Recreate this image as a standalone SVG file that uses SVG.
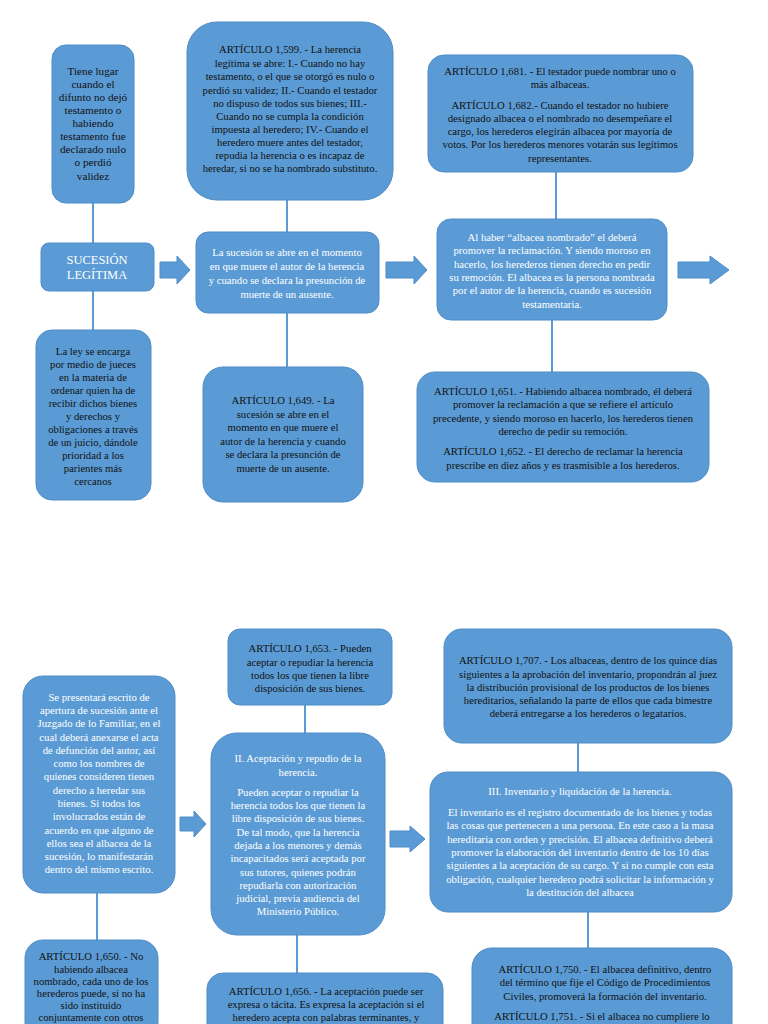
<svg xmlns="http://www.w3.org/2000/svg" width="768" height="1024" viewBox="0 0 768 1024">
<style>
.box{fill:#5b9bd5;stroke:#4f8cc6;stroke-width:1}
.arr{fill:#5b9bd5;stroke:#4f8cc6;stroke-width:1}
.con{stroke:#5b9bd5;stroke-width:2;fill:none}
text{font-family:"Liberation Serif","Times New Roman",serif;font-size:10.7px;text-anchor:middle}
.k{fill:#111111}
.w{fill:#ffffff}
</style>
<rect width="768" height="1024" fill="#ffffff"/>
<g id="connectors">
<line class="con" x1="93" y1="203" x2="93" y2="243"/>
<line class="con" x1="93" y1="291" x2="93" y2="330"/>
<line class="con" x1="287" y1="200" x2="287" y2="232"/>
<line class="con" x1="287" y1="313" x2="287" y2="367"/>
<line class="con" x1="556" y1="172" x2="556" y2="219"/>
<line class="con" x1="552" y1="320" x2="552" y2="372"/>
<line class="con" x1="97" y1="893" x2="97" y2="940"/>
<line class="con" x1="305" y1="705" x2="305" y2="733"/>
<line class="con" x1="297" y1="935" x2="297" y2="973"/>
<line class="con" x1="578" y1="743" x2="578" y2="772"/>
<line class="con" x1="588" y1="912" x2="588" y2="948"/>
<path class="arr" d="M160,262 H177 V256 L190,270 L177,284 V278 H160 Z"/>
<path class="arr" d="M386,262 H414 V256 L427,270 L414,284 V278 H386 Z"/>
<path class="arr" d="M678,262 H710 V256 L729,270 L710,284 V278 H678 Z"/>
<path class="arr" d="M180,817 H194 V811 L206,824 L194,837 V831 H180 Z"/>
<path class="arr" d="M390,831 H410 V826 L425,839 L410,852 V847 H390 Z"/>
</g>
<g id="n-tiene">
<rect class="box" x="52" y="45" width="82" height="158" rx="14"/>
<text class="k" style="font-size:11.2px"><tspan x="93" y="75">Tiene lugar</tspan><tspan x="93" y="88">cuando el</tspan><tspan x="93" y="101">difunto no dejó</tspan><tspan x="93" y="114">testamento o</tspan><tspan x="93" y="127">habiendo</tspan><tspan x="93" y="140">testamento fue</tspan><tspan x="93" y="153">declarado nulo</tspan><tspan x="93" y="166">o perdió</tspan><tspan x="93" y="180">validez</tspan></text>
</g>
<g id="n-1599">
<rect class="box" x="187" y="22" width="206" height="178" rx="30"/>
<text class="k"><tspan x="290" y="53">ARTÍCULO 1,599. - La herencia</tspan><tspan x="290" y="67">legítima se abre: I.- Cuando no hay</tspan><tspan x="290" y="80">testamento, o el que se otorgó es nulo o</tspan><tspan x="290" y="94">perdió su validez; II.- Cuando el testador</tspan><tspan x="290" y="107">no dispuso de todos sus bienes; III.-</tspan><tspan x="290" y="120">Cuando no se cumpla la condición</tspan><tspan x="290" y="133">impuesta al heredero; IV.- Cuando el</tspan><tspan x="290" y="146">heredero muere antes del testador,</tspan><tspan x="290" y="159">repudia la herencia o es incapaz de</tspan><tspan x="290" y="172">heredar, si no se ha nombrado substituto.</tspan></text>
</g>
<g id="n-1681">
<rect class="box" x="428" y="55" width="265" height="117" rx="16"/>
<text class="k"><tspan x="560" y="75">ARTÍCULO 1,681. - El testador puede nombrar uno o</tspan><tspan x="560" y="88">más albaceas.</tspan><tspan x="560" y="109">ARTÍCULO 1,682.- Cuando el testador no hubiere</tspan><tspan x="560" y="122">designado albacea o el nombrado no desempeñare el</tspan><tspan x="560" y="135">cargo, los herederos elegirán albacea por mayoría de</tspan><tspan x="560" y="148">votos. Por los herederos menores votarán sus legítimos</tspan><tspan x="560" y="162">representantes.</tspan></text>
</g>
<g id="n-sucesion">
<rect class="box" x="41" y="243" width="113" height="48" rx="8"/>
<text class="w" style="font-size:12.5px"><tspan x="97" y="264">SUCESIÓN</tspan><tspan x="97" y="279">LEGÍTIMA</tspan></text>
</g>
<g id="n-abre">
<rect class="box" x="196" y="232" width="183" height="81" rx="12"/>
<text class="w"><tspan x="287" y="256">La sucesión se abre en el momento</tspan><tspan x="287" y="270">en que muere el autor de la herencia</tspan><tspan x="287" y="284">y cuando se declara la presunción de</tspan><tspan x="287" y="298">muerte de un ausente.</tspan></text>
</g>
<g id="n-alhaber">
<rect class="box" x="437" y="219" width="230" height="101" rx="14"/>
<text class="w"><tspan x="552" y="241">Al haber “albacea nombrado” el deberá</tspan><tspan x="552" y="254">promover la reclamación. Y siendo moroso en</tspan><tspan x="552" y="268">hacerlo, los herederos tienen derecho en pedir</tspan><tspan x="552" y="281">su remoción. El albacea es la persona nombrada</tspan><tspan x="552" y="294">por el autor de la herencia, cuando es sucesión</tspan><tspan x="552" y="308">testamentaria.</tspan></text>
</g>
<g id="n-ley">
<rect class="box" x="36" y="330" width="115" height="170" rx="16"/>
<text class="k"><tspan x="93" y="355">La ley se encarga</tspan><tspan x="93" y="368">por medio de jueces</tspan><tspan x="93" y="381">en la materia de</tspan><tspan x="93" y="394">ordenar quien ha de</tspan><tspan x="93" y="407">recibir dichos bienes</tspan><tspan x="93" y="420">y derechos y</tspan><tspan x="93" y="433">obligaciones a través</tspan><tspan x="93" y="446">de un juicio, dándole</tspan><tspan x="93" y="459">prioridad a los</tspan><tspan x="93" y="472">parientes más</tspan><tspan x="93" y="485">cercanos</tspan></text>
</g>
<g id="n-1649">
<rect class="box" x="203" y="367" width="160" height="135" rx="20"/>
<text class="k"><tspan x="283" y="404">ARTÍCULO 1,649. - La</tspan><tspan x="283" y="418">sucesión se abre en el</tspan><tspan x="283" y="431">momento en que muere el</tspan><tspan x="283" y="445">autor de la herencia y cuando</tspan><tspan x="283" y="458">se declara la presunción de</tspan><tspan x="283" y="472">muerte de un ausente.</tspan></text>
</g>
<g id="n-1651">
<rect class="box" x="417" y="372" width="292" height="110" rx="18"/>
<text class="k"><tspan x="563" y="395">ARTÍCULO 1,651. - Habiendo albacea nombrado, él deberá</tspan><tspan x="563" y="408">promover la reclamación a que se refiere el artículo</tspan><tspan x="563" y="422">precedente, y siendo moroso en hacerlo, los herederos tienen</tspan><tspan x="563" y="435">derecho de pedir su remoción.</tspan><tspan x="563" y="455">ARTÍCULO 1,652. - El derecho de reclamar la herencia</tspan><tspan x="563" y="469">prescribe en diez años y es trasmisible a los herederos.</tspan></text>
</g>
<g id="n-presentara">
<rect class="box" x="23" y="676" width="152" height="217" rx="20"/>
<text class="w"><tspan x="99" y="701">Se presentará escrito de</tspan><tspan x="99" y="714">apertura de sucesión ante el</tspan><tspan x="99" y="727">Juzgado de lo Familiar, en el</tspan><tspan x="99" y="741">cual deberá anexarse el acta</tspan><tspan x="99" y="754">de defunción del autor, así</tspan><tspan x="99" y="767">como los nombres de</tspan><tspan x="99" y="780">quienes consideren tienen</tspan><tspan x="99" y="794">derecho a heredar sus</tspan><tspan x="99" y="807">bienes. Si todos los</tspan><tspan x="99" y="820">involucrados están de</tspan><tspan x="99" y="834">acuerdo en que alguno de</tspan><tspan x="99" y="847">ellos sea el albacea de la</tspan><tspan x="99" y="860">sucesión, lo manifestarán</tspan><tspan x="99" y="873">dentro del mismo escrito.</tspan></text>
</g>
<g id="n-1650">
<rect class="box" x="25" y="940" width="133" height="100" rx="18"/>
<text class="k"><tspan x="91" y="960">ARTÍCULO 1,650. - No</tspan><tspan x="91" y="973">habiendo albacea</tspan><tspan x="91" y="985">nombrado, cada uno de los</tspan><tspan x="91" y="997">herederos puede, si no ha</tspan><tspan x="91" y="1009">sido instituido</tspan><tspan x="91" y="1021">conjuntamente con otros</tspan></text>
</g>
<g id="n-1653">
<rect class="box" x="228" y="629" width="164" height="76" rx="12"/>
<text class="k"><tspan x="310" y="652">ARTÍCULO 1,653. - Pueden</tspan><tspan x="310" y="666">aceptar o repudiar la herencia</tspan><tspan x="310" y="679">todos los que tienen la libre</tspan><tspan x="310" y="692">disposición de sus bienes.</tspan></text>
</g>
<g id="n-aceptacion">
<rect class="box" x="211" y="733" width="174" height="202" rx="26"/>
<text class="w"><tspan x="298" y="762">II. Aceptación y repudio de la</tspan><tspan x="298" y="776">herencia.</tspan><tspan x="298" y="796">Pueden aceptar o repudiar la</tspan><tspan x="298" y="809">herencia todos los que tienen la</tspan><tspan x="298" y="822">libre disposición de sus bienes.</tspan><tspan x="298" y="836">De tal modo, que la herencia</tspan><tspan x="298" y="849">dejada a los menores y demás</tspan><tspan x="298" y="862">incapacitados será aceptada por</tspan><tspan x="298" y="876">sus tutores, quienes podrán</tspan><tspan x="298" y="889">repudiarla con autorización</tspan><tspan x="298" y="902">judicial, previa audiencia del</tspan><tspan x="298" y="915">Ministerio Público.</tspan></text>
</g>
<g id="n-1656">
<rect class="box" x="207" y="973" width="236" height="70" rx="16"/>
<text class="k"><tspan x="326" y="995">ARTÍCULO 1,656. - La aceptación puede ser</tspan><tspan x="326" y="1008">expresa o tácita. Es expresa la aceptación si el</tspan><tspan x="326" y="1021">heredero acepta con palabras terminantes, y</tspan></text>
</g>
<g id="n-1707">
<rect class="box" x="444" y="629" width="288" height="114" rx="18"/>
<text class="k"><tspan x="588" y="664">ARTÍCULO 1,707. - Los albaceas, dentro de los quince días</tspan><tspan x="588" y="678">siguientes a la aprobación del inventario, propondrán al juez</tspan><tspan x="588" y="691">la distribución provisional de los productos de los bienes</tspan><tspan x="588" y="704">hereditarios, señalando la parte de ellos que cada bimestre</tspan><tspan x="588" y="717">deberá entregarse a los herederos o legatarios.</tspan></text>
</g>
<g id="n-inventario">
<rect class="box" x="430" y="772" width="302" height="140" rx="18"/>
<text class="w"><tspan x="580" y="795">III. Inventario y liquidación de la herencia.</tspan><tspan x="580" y="816">El inventario es el registro documentado de los bienes y todas</tspan><tspan x="580" y="829">las cosas que pertenecen a una persona. En este caso a la masa</tspan><tspan x="580" y="843">hereditaria con orden y precisión. El albacea definitivo deberá</tspan><tspan x="580" y="856">promover la elaboración del inventario dentro de los 10 días</tspan><tspan x="580" y="869">siguientes a la aceptación de su cargo. Y si no cumple con esta</tspan><tspan x="580" y="883">obligación, cualquier heredero podrá solicitar la información y</tspan><tspan x="580" y="896">la destitución del albacea</tspan></text>
</g>
<g id="n-1750">
<rect class="box" x="472" y="948" width="260" height="95" rx="20"/>
<text class="k"><tspan x="605" y="973">ARTÍCULO 1,750. - El albacea definitivo, dentro</tspan><tspan x="605" y="986">del término que fije el Código de Procedimientos</tspan><tspan x="605" y="1000">Civiles, promoverá la formación del inventario.</tspan><tspan x="602" y="1020">ARTÍCULO 1,751. - Si el albacea no cumpliere lo</tspan></text>
</g>
</svg>
